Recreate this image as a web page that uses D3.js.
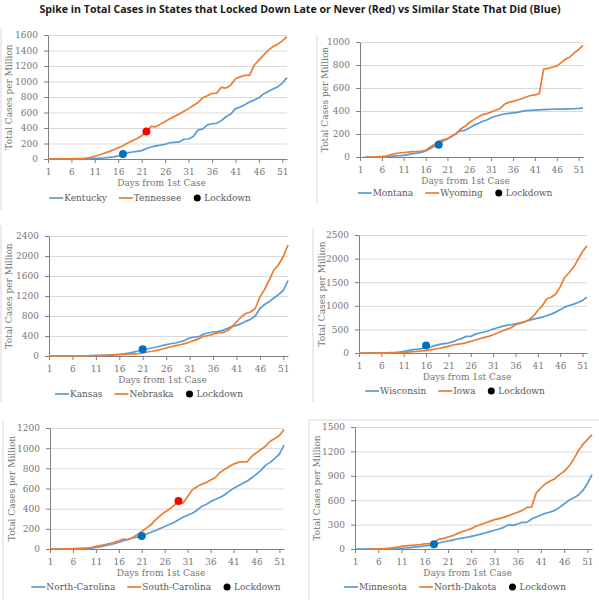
<!DOCTYPE html>
<html>
<head>
<meta charset="utf-8">
<script src="https://cdn.jsdelivr.net/npm/d3@7"></script>
<style>
  body { margin: 0; background: #fff; }
  svg { display: block; }
  .tick text, .lbl { font-family: "DejaVu Serif", serif; font-size: 9px; fill: #767676; }
  .axis path, .axis line { stroke: #7f7f7f; }
  .grid line { stroke: #d9d9d9; }
  .grid path { display: none; }
</style>
</head>
<body>
<svg id="chart" width="599" height="600"></svg>
<script>
// categories: days from first case
var days = d3.range(1, 53);
var xTickDays = [1, 6, 11, 16, 21, 26, 31, 36, 41, 46, 51];

// series values, total cases per million (null = no data yet)
var kentucky = [0,0,0,1,1,2,2,3,4,5, 7,10,14,20,28,40,62,78,90,98,
  108,135,155,170,178,190,210,215,220,255, 258,290,375,385,440,455,460,495,545,580,
  650,670,700,735,760,790,840,870,905,930, 980,1050];
var tennessee = [0,0,1,1,2,3,4,6,9,18, 35,55,75,95,120,145,172,205,235,265,
  300,350,420,415,450,485,520,550,580,615, 650,690,730,790,815,845,850,925,915,955,
  1035,1060,1080,1080,1210,1275,1340,1405,1450,1480, 1525,1580];
var montana = [null,0,0,1,1,2,4,6,9,11, 14,20,29,34,40,52,72,93,110,139,
  157,180,203,228,232,252,275,290,310,322, 342,354,365,374,380,383,388,397,403,406,
  408,410,412,414,415,416,417,418,419,420, 422,425];
var wyoming = [null,null,0,2,3,5,8,20,30,35, 38,42,46,48,52,58,85,110,139,150,
  160,180,205,243,267,300,325,348,368,377, 391,406,420,458,475,484,496,507,522,535,
  540,550,765,770,780,790,820,850,870,905, 935,970];
var kansas = [0,0,0,1,1,2,3,4,5,7, 9,12,15,20,26,33,45,60,78,100,
  125,140,160,180,205,227,245,260,285,313, 360,380,387,440,460,480,487,513,547,587,
  613,647,693,733,800,950,1030,1090,1160,1230, 1310,1510];
var nebraska = [0,0,0,0,1,1,2,3,4,5, 7,9,12,16,21,27,32,37,42,47,
  60,80,95,113,135,160,185,207,225,247, 280,313,347,393,410,433,467,467,500,580,
  680,780,850,880,950,1180,1330,1520,1720,1830, 1990,2220];
var wisconsin = [0,0,0,1,2,3,5,8,12,20, 35,50,70,80,92,106,127,155,183,197,
  211,240,275,310,352,352,400,423,444,472, 507,535,563,585,599,620,641,662,690,718,
  740,760,789,824,866,915,972,1007,1035,1070, 1113,1183];
var iowa = [0,0,0,0,1,1,2,3,5,8, 14,20,27,35,42,50,65,85,100,120,
  141,169,183,197,220,246,275,303,330,352, 387,423,465,500,535,599,627,655,704,780,
  900,1000,1150,1180,1250,1400,1600,1700,1820,1980, 2150,2270];
var northCarolina = [0,0,0,1,1,2,3,4,6,9, 16,24,33,42,53,67,82,95,109,117,
  125,148,166,184,204,224,243,263,290,316, 335,355,382,421,441,470,490,510,536,569,
  602,625,651,674,707,743,783,832,859,898, 941,1030];
var southCarolina = [0,0,0,1,2,3,5,7,10,15, 26,34,43,55,66,82,99,92,115,141,
  174,207,240,289,329,365,395,431,470,454, 520,586,618,641,658,684,707,757,789,816,
  842,859,865,865,921,954,987,1020,1069,1095, 1125,1184];
var minnesota = [0,0,0,1,1,2,2,3,4,5, 8,12,18,25,30,37,45,57,74,86,
  98,110,123,133,143,155,168,182,197,213, 230,246,266,299,291,307,328,328,369,393,
  418,439,455,475,512,553,598,627,660,717, 803,914];
var northDakota = [null,null,null,0,1,2,4,8,14,22, 33,39,45,49,53,62,65,80,120,128,
  148,164,189,213,230,250,279,299,320,340, 361,373,389,410,430,451,475,512,516,690,
  750,803,836,865,914,955,1016,1098,1201,1283, 1344,1406];

// lockdown markers: [day, value, which state]
var lockdownKY = [17, 64, 'blue'];
var lockdownTN = [22, 356, 'red'];
var lockdownMT = [19, 107, 'blue'];
var lockdownKS = [21, 133, 'blue'];
var lockdownWI = [16, 160, 'blue'];
var lockdownNC = [21, 128, 'blue'];
var lockdownSC = [29, 475, 'red'];
var lockdownMN = [18, 57, 'blue'];

// y tick labels per panel
var yTicks1 = [0, 200, 400, 600, 800, 1000, 1200, 1400, 1600];
var yTicks2 = [0, 200, 400, 600, 800, 1000];
var yTicks3 = [0, 400, 800, 1200, 1600, 2000, 2400];
var yTicks4 = [0, 500, 1000, 1500, 2000, 2500];
var yTicks5 = [0, 200, 400, 600, 800, 1000, 1200];
var yTicks6 = [0, 300, 600, 900, 1200, 1500];

var colors = { blue: '#5b9bd5', orange: '#ed7d31', dotBlue: '#0070c0', dotRed: '#ff0000' };

var panels = [
  { names: ['Kentucky', 'Tennessee'], blue: kentucky, orange: tennessee, ticks: yTicks1,
    marks: [lockdownKY, lockdownTN],
    box: { border: [1, 28, 210], left: 48, right: 287, top: 35, bottom: 159, yTitleX: 9, legendX: 150, legendY: 198 } },
  { names: ['Montana', 'Wyoming'], blue: montana, orange: wyoming, ticks: yTicks2,
    marks: [lockdownMT],
    box: { border: [317, 35, 204], left: 360, right: 583, top: 42, bottom: 157, yTitleX: 325, legendX: 455, legendY: 193 } },
  { names: ['Kansas', 'Nebraska'], blue: kansas, orange: nebraska, ticks: yTicks3,
    marks: [lockdownKS],
    box: { border: [1, 225, 402], left: 49, right: 288, top: 236, bottom: 356, yTitleX: 9, legendX: 149, legendY: 394 } },
  { names: ['Wisconsin', 'Iowa'], blue: wisconsin, orange: iowa, ticks: yTicks4,
    marks: [lockdownWI],
    box: { border: [313, 228, 402], left: 359, right: 587, top: 235, bottom: 353, yTitleX: 322, legendX: 455, legendY: 391 } },
  { names: ['North-Carolina', 'South-Carolina'], blue: northCarolina, orange: southCarolina, ticks: yTicks5,
    marks: [lockdownNC, lockdownSC],
    box: { border: [3, 420, 600], left: 50, right: 284, top: 428, bottom: 549, yTitleX: 12, legendX: 156, legendY: 587 } },
  { names: ['Minnesota', 'North-Dakota'], blue: minnesota, orange: northDakota, ticks: yTicks6,
    marks: [lockdownMN],
    box: { border: [309, 420, 600], left: 355, right: 592, top: 427, bottom: 549, yTitleX: 317, legendX: 455, legendY: 587, topLine: true } }
];

var svg = d3.select('#chart');

svg.append('text')
  .attr('x', 300).attr('y', 13)
  .attr('text-anchor', 'middle')
  .attr('textLength', 521).attr('lengthAdjust', 'spacingAndGlyphs')
  .style('font-family', '"Open Sans", sans-serif')
  .style('font-weight', 'bold')
  .style('font-size', '10.5px')
  .style('fill', '#1a1a1a')
  .text('Spike in Total Cases in States that Locked Down Late or Never (Red) vs Similar State That Did (Blue)');

panels.forEach(function(p) {
  var b = p.box;
  var g = svg.append('g');

  /* faint chart border */
  g.append('line')
    .attr('x1', b.border[0]).attr('x2', b.border[0])
    .attr('y1', b.border[1]).attr('y2', b.border[2])
    .attr('stroke', '#d9d9d9');
  if(b.topLine) {
    g.append('line')
      .attr('x1', b.border[0]).attr('x2', 599)
      .attr('y1', b.border[1]).attr('y2', b.border[1])
      .attr('stroke', '#d9d9d9');
  }

  var x = d3.scaleLinear().domain([days[0], days[days.length - 1]]).range([b.left, b.right]);
  var y = d3.scaleLinear().domain([0, p.ticks[p.ticks.length - 1]]).range([b.bottom, b.top]);

  /* grid */
  g.append('g')
    .attr('class', 'grid')
    .attr('transform', 'translate(' + b.left + ',0)')
    .call(d3.axisLeft(y).tickValues(p.ticks.slice(1)).tickSize(-(b.right - b.left)).tickFormat(''));

  /* axes */
  g.append('g')
    .attr('class', 'axis')
    .attr('transform', 'translate(' + b.left + ',0)')
    .call(d3.axisLeft(y).tickValues(p.ticks).tickFormat(d3.format('d'))
      .tickSize(4).tickSizeOuter(0).tickPadding(6));

  g.append('g')
    .attr('class', 'axis')
    .attr('transform', 'translate(0,' + b.bottom + ')')
    .call(d3.axisBottom(x).tickValues(xTickDays).tickFormat(d3.format('d'))
      .tickSize(4).tickSizeOuter(0).tickPadding(6));

  g.selectAll('.tick text').style('font-family', '"DejaVu Serif", serif').style('font-size', '9px');
  g.selectAll('.axis .tick text').attr('fill', '#767676');

  /* axis titles */
  g.append('text')
    .attr('class', 'lbl')
    .attr('x', (b.left + b.right) / 2 - 6)
    .attr('y', b.bottom + 27)
    .attr('text-anchor', 'middle')
    .text('Days from 1st Case');

  g.append('text')
    .attr('class', 'lbl')
    .attr('transform', 'translate(' + b.yTitleX + ',' + ((b.top + b.bottom) / 2) + ') rotate(-90)')
    .attr('text-anchor', 'middle')
    .attr('dy', '0.35em')
    .text('Total Cases per Million');

  /* lines */
  var line = d3.line()
    .defined(function(d) { return d !== null; })
    .x(function(d, i) { return x(days[i]); })
    .y(function(d) { return y(d); });

  [['blue', p.blue], ['orange', p.orange]].forEach(function(s) {
    g.append('path')
      .datum(s[1])
      .attr('fill', 'none')
      .attr('stroke', colors[s[0]])
      .attr('stroke-width', 1.7)
      .attr('stroke-linejoin', 'round')
      .attr('d', line);
  });

  /* lockdown dots */
  g.selectAll('.mark')
    .data(p.marks)
    .enter().append('circle')
      .attr('class', 'mark')
      .attr('cx', function(d) { return x(d[0]); })
      .attr('cy', function(d) { return y(d[1]); })
      .attr('r', 4)
      .attr('fill', function(d) { return d[2] === 'red' ? colors.dotRed : colors.dotBlue; });

  /* legend */
  var items = [
    { type: 'line', color: colors.blue, label: p.names[0] },
    { type: 'line', color: colors.orange, label: p.names[1] },
    { type: 'dot', color: '#000', label: 'Lockdown' }
  ];
  var lg = g.append('g');
  var cx = 0;
  items.forEach(function(it) {
    var ig = lg.append('g').attr('transform', 'translate(' + cx + ',0)');
    var tx;
    if(it.type === 'line') {
      ig.append('line')
        .attr('x1', 0).attr('x2', 14)
        .attr('y1', 0).attr('y2', 0)
        .attr('stroke', it.color).attr('stroke-width', 1.7);
      tx = 15;
    } else {
      ig.append('circle').attr('cx', 4).attr('cy', 0).attr('r', 3.5).attr('fill', it.color);
      tx = 11;
    }
    var t = ig.append('text')
      .attr('class', 'lbl')
      .attr('x', tx).attr('dy', '0.35em')
      .style('fill', '#595959')
      .text(it.label);
    cx += tx + t.node().getComputedTextLength() + 12;
  });
  var total = cx - 12;
  lg.attr('transform', 'translate(' + (b.legendX - total / 2) + ',' + b.legendY + ')');
});
</script>
</body>
</html>
